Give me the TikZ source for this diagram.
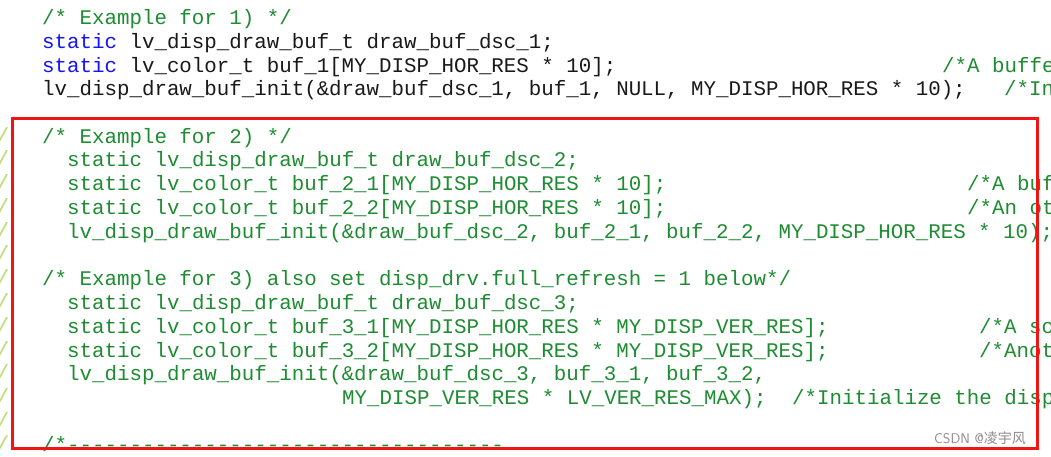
\documentclass[tikz,border=0pt]{standalone}
\usepackage{fontspec}
\setmonofont{Liberation Mono}
\newfontfamily\cjk{Noto Sans CJK SC}
\definecolor{kw}{RGB}{20,20,255}
\definecolor{cm}{RGB}{30,140,50}
\definecolor{tx}{RGB}{25,25,25}
\definecolor{rb}{RGB}{240,20,20}
\begin{document}
\begin{tikzpicture}[x=1pt,y=-1pt,
  code/.style={anchor=base west,inner sep=0pt,font=\ttfamily\fontsize{20.8}{22}\selectfont,text=tx},
  com/.style={code,text=cm},
  slashmark/.style={anchor=base west,inner sep=0pt,font=\ttfamily\fontsize{22}{22}\selectfont,text=cm!50!yellow,opacity=.6}]
\useasboundingbox (0,0) rectangle (1051,456);
\clip (0,0) rectangle (1051,456);
\fill[white] (0,0) rectangle (1051,456);
% top part
\node[com] (l1) at (42,24) {/* Example for 1) */};
\node[code] (l2) at (42,48) {\textcolor{kw}{static} lv\_disp\_draw\_buf\_t draw\_buf\_dsc\_1;};
\node[code] (l3) at (42,72) {\textcolor{kw}{static} lv\_color\_t buf\_1[MY\_DISP\_HOR\_RES * 10];};
\node[com] (c3) at (942,72) {/*A buffer for 10 rows*/};
\node[code] (l4) at (42,95) {lv\_disp\_draw\_buf\_init(\&draw\_buf\_dsc\_1, buf\_1, NULL, MY\_DISP\_HOR\_RES * 10);};
\node[com] (c4) at (1004,95) {/*Initialize the display buffer*/};
% boxed part
\node[com] (b1) at (42,143) {/* Example for 2) */};
\node[com] (b2) at (67,166) {static lv\_disp\_draw\_buf\_t draw\_buf\_dsc\_2;};
\node[com] (b3) at (67,190) {static lv\_color\_t buf\_2\_1[MY\_DISP\_HOR\_RES * 10];};
\node[com] (d3) at (967,190) {/*A buffer for 10 rows*/};
\node[com] (b4) at (67,214) {static lv\_color\_t buf\_2\_2[MY\_DISP\_HOR\_RES * 10];};
\node[com] (d4) at (967,214) {/*An other buffer for 10 rows*/};
\node[com] (b5) at (67,238) {lv\_disp\_draw\_buf\_init(\&draw\_buf\_dsc\_2, buf\_2\_1, buf\_2\_2, MY\_DISP\_HOR\_RES * 10);};
\node[com] (b7) at (42,285) {/* Example for 3) also set disp\_drv.full\_refresh = 1 below*/};
\node[com] (b8) at (67,309) {static lv\_disp\_draw\_buf\_t draw\_buf\_dsc\_3;};
\node[com] (b9) at (67,333) {static lv\_color\_t buf\_3\_1[MY\_DISP\_HOR\_RES * MY\_DISP\_VER\_RES];};
\node[com] (d9) at (979,333) {/*A screen sized buffer*/};
\node[com] (b10) at (67,357) {static lv\_color\_t buf\_3\_2[MY\_DISP\_HOR\_RES * MY\_DISP\_VER\_RES];};
\node[com] (d10) at (979,357) {/*Another screen sized buffer*/};
\node[com] (b11) at (67,380) {lv\_disp\_draw\_buf\_init(\&draw\_buf\_dsc\_3, buf\_3\_1, buf\_3\_2,};
\node[com] (b12) at (342,404) {MY\_DISP\_VER\_RES * LV\_VER\_RES\_MAX);};
\node[com] (d12) at (792,404) {/*Initialize the display buffer*/};
\node[com] (b14) at (42,451) {/*-----------------------------------};
% left margin marks
\foreach \y/\n in {143/m1,166/m2,190/m3,214/m4,238/m5,261/m6,285/m7,309/m8,333/m9,357/m10,380/m11,404/m12,428/m13,451/m14}
  \node[slashmark] (\n) at (-4,\y) {/};
% red frame
\draw[rb,line width=3pt] (12,118) rectangle (1037,448);
\node[anchor=base west,inner sep=0pt,text=black!45,font=\fontsize{14}{14}\selectfont] (wm) at (934,443) {\sffamily CSDN @{\cjk 凌宇风}};
\end{tikzpicture}
\end{document}
